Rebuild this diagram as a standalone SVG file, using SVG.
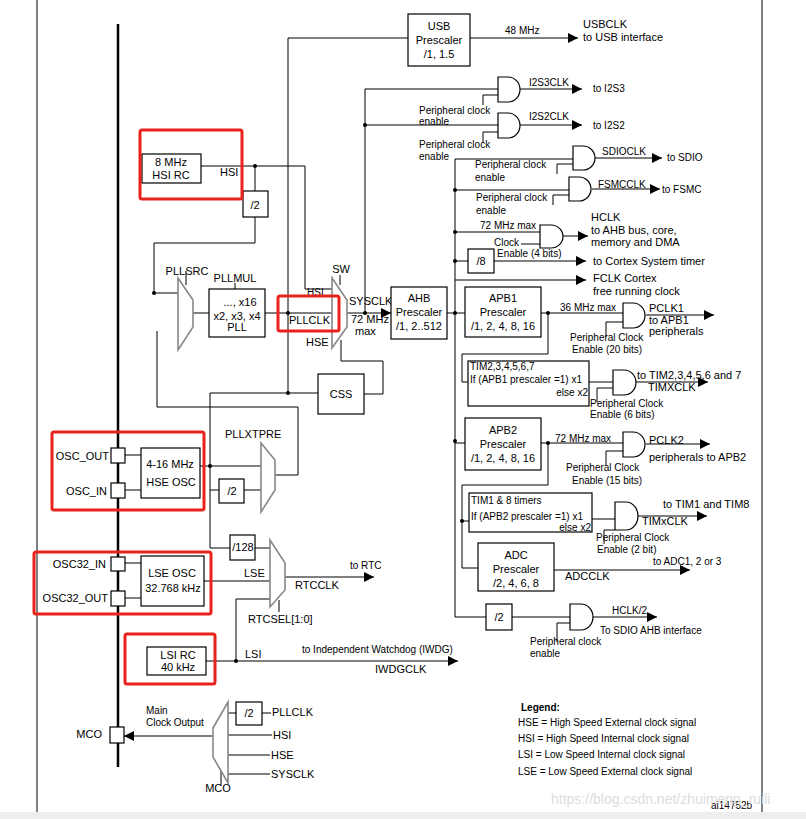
<svg xmlns="http://www.w3.org/2000/svg" width="806" height="819" viewBox="0 0 806 819">
<style>
text{font-family:"Liberation Sans",Arial,sans-serif;font-size:11px;fill:#000}
.s{font-size:10px}
.m{text-anchor:middle}
.e{text-anchor:end}
.b{fill:#fff;stroke:#000;stroke-width:1.2}
.l{fill:none;stroke:#000;stroke-width:1}
.mux{fill:#fff;stroke:#888;stroke-width:1.6}
.red{fill:none;stroke:#e8231c;stroke-width:3}
.g{fill:#fff;stroke:#000;stroke-width:1.2}
</style>
<defs>
<marker id="a" viewBox="0 0 10 10" refX="10" refY="5" markerWidth="10" markerHeight="10" markerUnits="userSpaceOnUse" orient="auto"><path d="M0,0L10,5L0,10z"/></marker>
</defs>
<rect x="0" y="0" width="806" height="819" fill="#fff"/>
<rect x="0" y="812" width="806" height="7" fill="#eee"/>
<line x1="37" y1="0" x2="37" y2="812" stroke="#000"/>
<line x1="762" y1="0" x2="762" y2="812" stroke="#000"/>
<line x1="118" y1="24" x2="118" y2="767" stroke="#000" stroke-width="2.5"/>

<g id="connectors" class="l">
<path d="M201,166H305V289H332"/>
<path d="M255,166V191M255,217V243H154V293H178"/>
<path d="M157,331V407H298V475H275"/>
<path d="M193,313H209M265,313H332"/>
<path d="M288,38V393M288,38H408"/>
<path d="M210,393H318M364,394H383V361H341V340"/>
<path d="M210,393V548H230M255,548H270"/>
<path d="M347,313H391" marker-end="url(#a)"/>
<path d="M365,313V89H498M365,125H498M483,105V95H498M483,143V132H498"/>
<path d="M470,38H578" marker-end="url(#a)"/>
<path d="M520,89H582" marker-end="url(#a)"/>
<path d="M520,125H582" marker-end="url(#a)"/>
<path d="M447,313H465M455,159V617H486M455,159H573M557,174V164H573M455,190H569M553,205V195H569"/>
<path d="M595,158H662" marker-end="url(#a)"/>
<path d="M592,189H660" marker-end="url(#a)"/>
<path d="M455,232H540M521,244H540"/>
<path d="M563,236H588" marker-end="url(#a)"/>
<path d="M455,261H468"/>
<path d="M494,261H586" marker-end="url(#a)"/>
<path d="M455,280H586" marker-end="url(#a)"/>
<path d="M541,313H623M606,337V322H623M548,313V354H462V382H468"/>
<path d="M646,315H714" marker-end="url(#a)"/>
<path d="M589,382H613M597,402V388H613"/>
<path d="M636,382H708" marker-end="url(#a)"/>
<path d="M455,443H465M541,443H623M606,465V451H623M548,443V485H462V568H478M462,521H469"/>
<path d="M646,444H710" marker-end="url(#a)"/>
<path d="M592,519H615M604,544V530H615"/>
<path d="M638,516H707" marker-end="url(#a)"/>
<path d="M554,570H690" marker-end="url(#a)"/>
<path d="M512,617H570M557,642V623H570"/>
<path d="M593,617H657" marker-end="url(#a)"/>
<path d="M125,455H141M125,490H141M125,563H141M125,598H141"/>
<path d="M200,466H261M210,490H219M244,490H261"/>
<path d="M204,581H270"/>
<path d="M285,577H374" marker-end="url(#a)"/>
<path d="M236,661V599H270M279,600V612"/>
<path d="M206,661H458" marker-end="url(#a)"/>
<path d="M213,736H124" marker-end="url(#a)"/>
<path d="M228,713H236M262,713H271M228,735H272M228,755H270M228,774H270M221,770V785"/>
<path d="M186,271V285M235,283V289M340,275V285"/>
</g>
<g id="dots">
<circle cx="255" cy="166" r="2"/><circle cx="154" cy="293" r="2"/><circle cx="288" cy="313" r="2"/>
<circle cx="288" cy="393" r="2"/><circle cx="365" cy="313" r="2"/><circle cx="365" cy="125" r="2"/>
<circle cx="455" cy="190" r="2"/><circle cx="455" cy="232" r="2"/><circle cx="455" cy="261" r="2"/>
<circle cx="455" cy="313" r="2"/><circle cx="548" cy="313" r="2"/><circle cx="455" cy="441" r="2"/>
<circle cx="548" cy="443" r="2"/><circle cx="462" cy="521" r="2"/><circle cx="210" cy="466" r="2"/>
<circle cx="236" cy="661" r="2"/>
</g>

<g id="hsi"><rect class="b" x="142" y="154" width="59" height="29"/><text class="m" x="171" y="166">8 MHz</text><text class="m" x="171" y="179">HSI RC</text><text x="220" y="176">HSI</text></g>
<g id="div2a"><rect class="b" x="243" y="191" width="25" height="26"/><text class="m" x="255" y="209">/2</text></g>
<g id="pllsrc"><polygon class="mux" points="178,278 193,300 193,327 178,350"/><text class="m" x="187" y="275">PLLSRC</text></g>
<g id="pll"><rect class="b" x="209" y="289" width="56" height="48"/><text class="m" x="240" y="306">..., x16</text><text class="m" x="237" y="320">x2, x3, x4</text><text class="m" x="237" y="331">PLL</text><text class="m" x="235" y="282">PLLMUL</text></g>
<text x="307" y="296" class="s">HSI</text>
<text x="289" y="324">PLLCLK</text>
<text x="306" y="346">HSE</text>
<g id="sw"><polygon class="mux" points="332,278 347,300 347,327 332,348"/><text class="m" x="341" y="273">SW</text></g>
<text x="349" y="305">SYSCLK</text><text x="351" y="323">72 MHz</text><text x="355" y="335">max</text>
<g id="css"><rect class="b" x="318" y="374" width="46" height="40"/><text class="m" x="341" y="398">CSS</text></g>
<g id="ahb"><rect class="b" x="391" y="287" width="56" height="52"/><text class="m" x="419" y="302">AHB</text><text class="m" x="419" y="316">Prescaler</text><text class="m" x="419" y="330">/1, 2..512</text></g>
<g id="usb"><rect class="b" x="408" y="14" width="62" height="52"/><text class="m" x="439" y="30">USB</text><text class="m" x="439" y="44">Prescaler</text><text class="m" x="439" y="58">/1, 1.5</text>
<text class="s" x="505" y="34">48 MHz</text><text x="583" y="28">USBCLK</text><text x="583" y="41">to USB interface</text></g>

<g id="i2s3"><path class="g" d="M498,77H508A12,12.5 0 0 1 508,102H498Z"/><text class="s" x="529" y="86">I2S3CLK</text><text class="s" x="593" y="92">to I2S3</text></g>
<g id="i2s2"><path class="g" d="M498,113H508A12,12.5 0 0 1 508,138H498Z"/><text class="s" x="529" y="120">I2S2CLK</text><text class="s" x="593" y="129">to I2S2</text></g>
<text class="s" x="419" y="114">Peripheral clock</text><text class="s" x="419" y="125">enable</text>
<text class="s" x="419" y="148">Peripheral clock</text><text class="s" x="419" y="160">enable</text>
<g id="sdio"><path class="g" d="M573,146H583A12,12 0 0 1 583,170H573Z"/><text class="s" x="602" y="155">SDIOCLK</text><text class="s" x="667" y="161">to SDIO</text><text class="s" x="475" y="168">Peripheral clock</text><text class="s" x="475" y="181">enable</text></g>
<g id="fsmc"><path class="g" d="M569,177H579A12,12 0 0 1 579,201H569Z"/><text class="s" x="598" y="188">FSMCCLK</text><text class="s" x="662" y="193">to FSMC</text><text class="s" x="476" y="201">Peripheral clock</text><text class="s" x="476" y="214">enable</text></g>
<g id="hclk"><path class="g" d="M540,225H551A12,11.5 0 0 1 551,248H540Z"/><text class="s" x="480" y="229">72 MHz max</text><text class="s" x="494" y="246">Clock</text><text class="s" x="497" y="257">Enable (4 bits)</text><text x="591" y="221">HCLK</text><text x="591" y="234">to AHB bus, core,</text><text x="591" y="246">memory and DMA</text></g>
<g id="div8"><rect class="b" x="468" y="249" width="26" height="24"/><text class="m" x="481" y="265">/8</text><text x="593" y="265">to Cortex System timer</text></g>
<text x="593" y="282">FCLK Cortex</text><text x="593" y="295">free running clock</text>
<g id="apb1"><rect class="b" x="465" y="287" width="76" height="50"/><text class="m" x="503" y="302">APB1</text><text class="m" x="503" y="316">Prescaler</text><text class="m" x="503" y="330">/1, 2, 4, 8, 16</text></g>
<text class="s" x="560" y="311">36 MHz max</text>
<g id="pclk1"><path class="g" d="M623,303H633A12,12.5 0 0 1 633,328H623Z"/><text x="649" y="312">PCLK1</text><text x="649" y="324">to APB1</text><text x="649" y="335">peripherals</text><text class="s" x="570" y="341">Peripheral Clock</text><text class="s" x="572" y="353">Enable (20 bits)</text></g>
<g id="tim2"><rect class="b" x="468" y="361" width="121" height="45"/><text class="s" x="470" y="370">TIM2,3,4,5,6,7</text><text class="s" x="470" y="383">If (APB1 prescaler =1) x1</text><text class="s e" x="588" y="396">else  x2</text></g>
<g id="timx"><path class="g" d="M613,370H624A12,12.5 0 0 1 624,395H613Z"/><text x="637" y="379">to TIM2,3,4,5,6 and 7</text><text x="648" y="391">TIMXCLK</text><text class="s" x="590" y="407">Peripheral Clock</text><text class="s" x="590" y="418">Enable (6 bits)</text></g>
<g id="apb2"><rect class="b" x="465" y="418" width="76" height="52"/><text class="m" x="503" y="434">APB2</text><text class="m" x="503" y="448">Prescaler</text><text class="m" x="503" y="462">/1, 2, 4, 8, 16</text></g>
<text class="s" x="555" y="442">72 MHz max</text>
<g id="pclk2"><path class="g" d="M623,432H633A12,12.5 0 0 1 633,457H623Z"/><text x="649" y="444">PCLK2</text><text x="649" y="461">peripherals to APB2</text><text class="s" x="566" y="471">Peripheral Clock</text><text class="s" x="572" y="484">Enable (15 bits)</text></g>
<g id="tim1"><rect class="b" x="469" y="493" width="123" height="39"/><text class="s" x="471" y="504">TIM1 &amp; 8 timers</text><text class="s" x="471" y="520">If (APB2 prescaler =1) x1</text><text class="s e" x="591" y="531">else x2</text></g>
<g id="timx8"><path class="g" d="M615,502H626A12,14 0 0 1 626,530H615Z"/><text x="663" y="508">to TIM1 and TIM8</text><text x="642" y="525">TIMxCLK</text><text class="s" x="596" y="541">Peripheral Clock</text><text class="s" x="597" y="553">Enable (2 bit)</text></g>
<g id="adc"><rect class="b" x="478" y="543" width="76" height="48"/><text class="m" x="516" y="559">ADC</text><text class="m" x="516" y="573">Prescaler</text><text class="m" x="516" y="587">/2, 4, 6, 8</text><text class="s" x="653" y="565">to ADC1, 2 or 3</text><text x="565" y="580">ADCCLK</text></g>
<g id="div2h"><rect class="b" x="486" y="604" width="26" height="26"/><text class="m" x="499" y="621">/2</text></g>
<g id="hclk2"><path class="g" d="M570,604H581A12,13 0 0 1 581,630H570Z"/><text class="s" x="612" y="614">HCLK/2</text><text class="s" x="600" y="634">To SDIO AHB interface</text><text class="s" x="530" y="645">Peripheral clock</text><text class="s" x="530" y="657">enable</text></g>

<g id="hse">
<rect class="b" x="111" y="448" width="14" height="15"/><rect class="b" x="111" y="483" width="14" height="15"/>
<text class="e" x="109" y="460">OSC_OUT</text><text class="e" x="107" y="495">OSC_IN</text>
<rect class="b" x="141" y="448" width="59" height="50"/><text class="m" x="170" y="468">4-16 MHz</text><text class="m" x="171" y="486">HSE OSC</text></g>
<g id="div2b"><rect class="b" x="219" y="479" width="25" height="24"/><text class="m" x="232" y="495">/2</text></g>
<g id="pllxtpre"><polygon class="mux" points="261,443 275,460 275,490 261,512"/><text x="225" y="438">PLLXTPRE</text></g>
<g id="div128"><rect class="b" x="230" y="535" width="25" height="25"/><text class="m" x="243" y="551">/128</text></g>
<g id="lse">
<rect class="b" x="111" y="557" width="14" height="14"/><rect class="b" x="111" y="591" width="14" height="15"/>
<text class="e" x="106" y="568">OSC32_IN</text><text class="e" x="108" y="602">OSC32_OUT</text>
<rect class="b" x="141" y="556" width="63" height="50"/><text class="m" x="172" y="577">LSE OSC</text><text class="m" x="173" y="592">32.768 kHz</text></g>
<text x="244" y="577">LSE</text>
<g id="rtcmux"><polygon class="mux" points="270,540 285,563 285,590 270,607"/><text class="s" x="350" y="569">to RTC</text><text x="295" y="589">RTCCLK</text><text x="248" y="623">RTCSEL[1:0]</text></g>
<g id="lsi"><rect class="b" x="147" y="647" width="59" height="28"/><text class="m" x="178" y="659">LSI RC</text><text class="m" x="178" y="671">40 kHz</text>
<text x="245" y="658">LSI</text><text class="s" x="302" y="653">to Independent Watchdog (IWDG)</text><text x="375" y="673">IWDGCLK</text></g>
<g id="mco">
<rect class="b" x="110" y="727" width="14" height="16"/><text class="e" x="102" y="738">MCO</text>
<text class="s" x="146" y="714">Main</text><text class="s" x="146" y="726">Clock Output</text>
<polygon class="mux" points="213,728 228,702 228,783 213,757"/><text class="m" x="218" y="792">MCO</text>
<rect class="b" x="236" y="702" width="26" height="23"/><text class="m" x="249" y="717">/2</text>
<text x="272" y="716">PLLCLK</text><text x="273" y="739">HSI</text><text x="271" y="759">HSE</text><text x="271" y="778">SYSCLK</text></g>

<g id="legend" class="s">
<text x="521" y="711" font-weight="bold" class="s">Legend:</text>
<text x="518" y="726" class="s">HSE = High Speed External clock signal</text>
<text x="518" y="742" class="s">HSI = High Speed Internal clock signal</text>
<text x="518" y="758" class="s">LSI = Low Speed Internal clock signal</text>
<text x="518" y="775" class="s">LSE = Low Speed External clock signal</text>
<text x="711" y="809" class="s">ai14752b</text>
</g>
<text x="551" y="804" style="font-size:14px;fill:#ddd">https://blog.csdn.net/zhuimeng_ruili</text>

<g id="highlights">
<rect class="red" x="140" y="130" width="102" height="69" rx="2"/>
<rect class="red" x="278" y="296" width="61" height="35" rx="2"/>
<rect class="red" x="52" y="432" width="152" height="78" rx="2"/>
<rect class="red" x="34" y="552" width="177" height="62" rx="2"/>
<rect class="red" x="125" y="634" width="90" height="50" rx="2"/>
</g>
</svg>
